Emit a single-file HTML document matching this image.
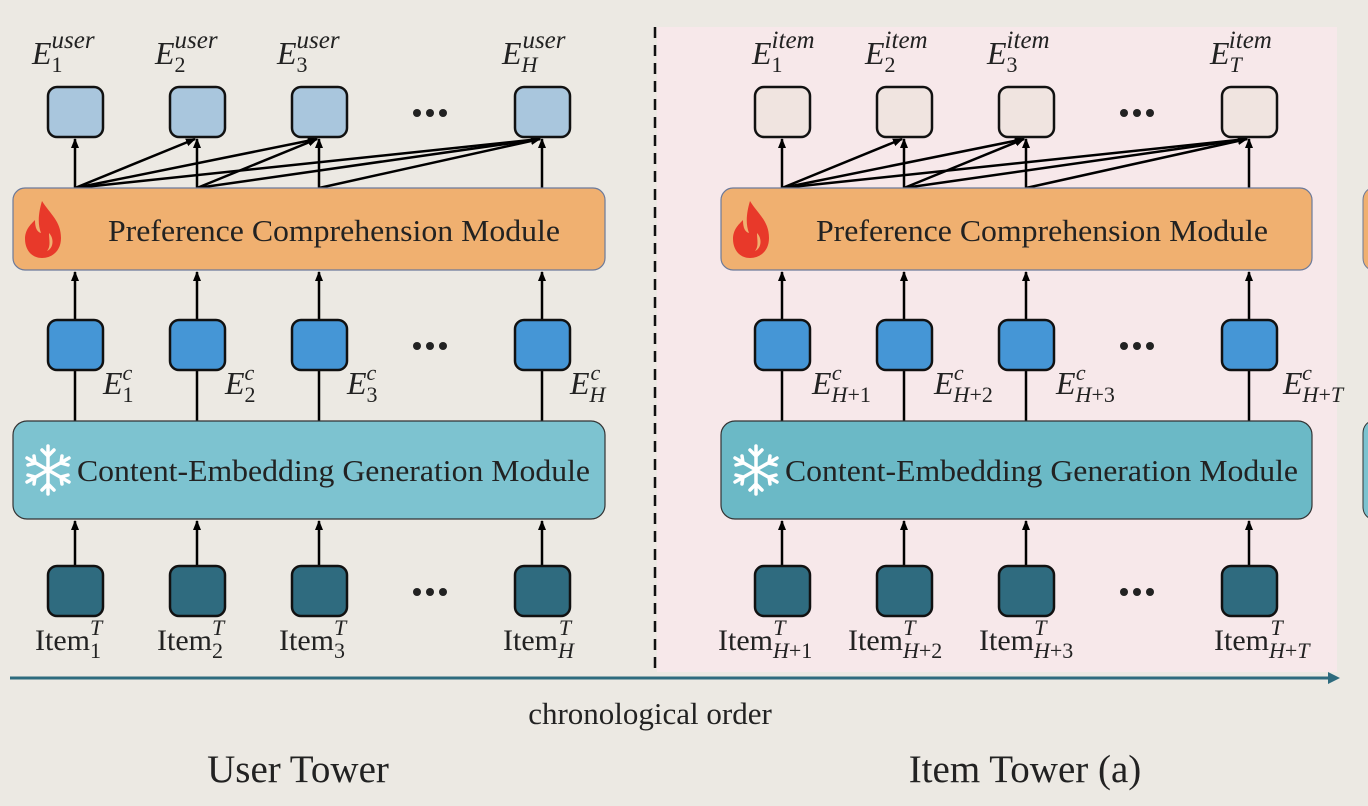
<!DOCTYPE html>
<html><head><meta charset="utf-8"><style>
html,body{margin:0;padding:0;background:#ECE9E3;}
svg{display:block}
text{font-family:"Liberation Serif",serif;fill:#222}
.m{font-style:italic}
</style></head><body>
<svg width="1368" height="806" viewBox="0 0 1368 806" xmlns="http://www.w3.org/2000/svg">
<defs>
<marker id="a" markerWidth="10" markerHeight="10" refX="9" refY="5" orient="auto" markerUnits="userSpaceOnUse"><path d="M0,1 L10,5 L0,9 z" fill="#000"/></marker>
<g id="flame"><path d="M17,0 C25,13 36,20 36,37 C36,50 27,57 17,57 C6,57 0,48 0,38 C0,29 5,24 10,19 C10,27 12,31 16,32 C12,22 14,10 17,0 z" fill="#E8392A"/><path d="M24,32 C29,37 29,47 22,50 C26,45 24,39 24,32z" fill="#F0B070"/></g>
<g id="snow" stroke="#fff" stroke-width="3.5" fill="none" stroke-linecap="round">
<path d="M0,-24 V24 M-21,-12 L21,12 M-21,12 L21,-12"/>
<path d="M-6,-20 L0,-14 L6,-20 M-6,20 L0,14 L6,20 M-20,-5 L-13,-7 L-14,-14 M20,5 L13,7 L14,14 M-20,5 L-13,7 L-14,14 M20,-5 L13,-7 L14,-14"/>
</g>
</defs>
<rect x="657" y="27" width="680" height="645" fill="#F7E8EA"/>
<line x1="655" y1="27" x2="655" y2="672" stroke="#111" stroke-width="2.5" stroke-dasharray="11,7"/>
<rect x="1363" y="188" width="20" height="82" rx="12" fill="#F0B070" stroke="#6c7a9a"/>
<rect x="1363" y="421" width="20" height="98" rx="12" fill="#7DC3D0" stroke="#333"/>

<g stroke="#000" stroke-width="2.5" fill="none">
<line x1="75" y1="188" x2="75" y2="139" marker-end="url(#a)"/>
<line x1="75" y1="188" x2="195" y2="139" marker-end="url(#a)"/>
<line x1="75" y1="188" x2="317" y2="139" marker-end="url(#a)"/>
<line x1="75" y1="188" x2="540" y2="139" marker-end="url(#a)"/>
<line x1="197" y1="188" x2="197" y2="139" marker-end="url(#a)"/>
<line x1="197" y1="188" x2="317" y2="139" marker-end="url(#a)"/>
<line x1="197" y1="188" x2="540" y2="139" marker-end="url(#a)"/>
<line x1="319" y1="188" x2="319" y2="139" marker-end="url(#a)"/>
<line x1="319" y1="188" x2="540" y2="139" marker-end="url(#a)"/>
<line x1="542" y1="188" x2="542" y2="139" marker-end="url(#a)"/>
<line x1="75" y1="320" x2="75" y2="272" marker-end="url(#a)"/>
<line x1="197" y1="320" x2="197" y2="272" marker-end="url(#a)"/>
<line x1="319" y1="320" x2="319" y2="272" marker-end="url(#a)"/>
<line x1="542" y1="320" x2="542" y2="272" marker-end="url(#a)"/>
<line x1="75" y1="370" x2="75" y2="421"/>
<line x1="197" y1="370" x2="197" y2="421"/>
<line x1="319" y1="370" x2="319" y2="421"/>
<line x1="542" y1="370" x2="542" y2="421"/>
<line x1="75" y1="566" x2="75" y2="521" marker-end="url(#a)"/>
<line x1="197" y1="566" x2="197" y2="521" marker-end="url(#a)"/>
<line x1="319" y1="566" x2="319" y2="521" marker-end="url(#a)"/>
<line x1="542" y1="566" x2="542" y2="521" marker-end="url(#a)"/>
</g>
<g stroke="#111" stroke-width="2.5">
<rect x="48" y="87" width="55" height="50" rx="9" fill="#A9C6DD"/>
<rect x="170" y="87" width="55" height="50" rx="9" fill="#A9C6DD"/>
<rect x="292" y="87" width="55" height="50" rx="9" fill="#A9C6DD"/>
<rect x="515" y="87" width="55" height="50" rx="9" fill="#A9C6DD"/>
<rect x="48" y="320" width="55" height="50" rx="9" fill="#4596D6"/>
<rect x="170" y="320" width="55" height="50" rx="9" fill="#4596D6"/>
<rect x="292" y="320" width="55" height="50" rx="9" fill="#4596D6"/>
<rect x="515" y="320" width="55" height="50" rx="9" fill="#4596D6"/>
<rect x="48" y="566" width="55" height="50" rx="9" fill="#2F6B7F"/>
<rect x="170" y="566" width="55" height="50" rx="9" fill="#2F6B7F"/>
<rect x="292" y="566" width="55" height="50" rx="9" fill="#2F6B7F"/>
<rect x="515" y="566" width="55" height="50" rx="9" fill="#2F6B7F"/>
</g>
<rect x="13" y="188" width="592" height="82" rx="12" fill="#F0B070" stroke="#6c7a9a" stroke-width="1.2"/>
<rect x="13" y="421" width="592" height="98" rx="14" fill="#7DC3D0" stroke="#333" stroke-width="1.2"/>
<use href="#flame" x="25" y="201"/>
<use href="#snow" x="48" y="470"/>
<text x="108" y="241" font-size="31" textLength="452" lengthAdjust="spacingAndGlyphs">Preference Comprehension Module</text>
<text x="77" y="481" font-size="31" textLength="513" lengthAdjust="spacingAndGlyphs">Content-Embedding Generation Module</text>
<g fill="#222"><circle cx="417" cy="113" r="4"/><circle cx="430" cy="113" r="4"/><circle cx="443" cy="113" r="4"/>
<circle cx="417" cy="346" r="4"/><circle cx="430" cy="346" r="4"/><circle cx="443" cy="346" r="4"/>
<circle cx="417" cy="592" r="4"/><circle cx="430" cy="592" r="4"/><circle cx="443" cy="592" r="4"/></g>

<g stroke="#000" stroke-width="2.5" fill="none">
<line x1="782" y1="188" x2="782" y2="139" marker-end="url(#a)"/>
<line x1="782" y1="188" x2="902" y2="139" marker-end="url(#a)"/>
<line x1="782" y1="188" x2="1024" y2="139" marker-end="url(#a)"/>
<line x1="782" y1="188" x2="1247" y2="139" marker-end="url(#a)"/>
<line x1="904" y1="188" x2="904" y2="139" marker-end="url(#a)"/>
<line x1="904" y1="188" x2="1024" y2="139" marker-end="url(#a)"/>
<line x1="904" y1="188" x2="1247" y2="139" marker-end="url(#a)"/>
<line x1="1026" y1="188" x2="1026" y2="139" marker-end="url(#a)"/>
<line x1="1026" y1="188" x2="1247" y2="139" marker-end="url(#a)"/>
<line x1="1249" y1="188" x2="1249" y2="139" marker-end="url(#a)"/>
<line x1="782" y1="320" x2="782" y2="272" marker-end="url(#a)"/>
<line x1="904" y1="320" x2="904" y2="272" marker-end="url(#a)"/>
<line x1="1026" y1="320" x2="1026" y2="272" marker-end="url(#a)"/>
<line x1="1249" y1="320" x2="1249" y2="272" marker-end="url(#a)"/>
<line x1="782" y1="370" x2="782" y2="421"/>
<line x1="904" y1="370" x2="904" y2="421"/>
<line x1="1026" y1="370" x2="1026" y2="421"/>
<line x1="1249" y1="370" x2="1249" y2="421"/>
<line x1="782" y1="566" x2="782" y2="521" marker-end="url(#a)"/>
<line x1="904" y1="566" x2="904" y2="521" marker-end="url(#a)"/>
<line x1="1026" y1="566" x2="1026" y2="521" marker-end="url(#a)"/>
<line x1="1249" y1="566" x2="1249" y2="521" marker-end="url(#a)"/>
</g>
<g stroke="#111" stroke-width="2.5">
<rect x="755" y="87" width="55" height="50" rx="9" fill="#F0E4E0"/>
<rect x="877" y="87" width="55" height="50" rx="9" fill="#F0E4E0"/>
<rect x="999" y="87" width="55" height="50" rx="9" fill="#F0E4E0"/>
<rect x="1222" y="87" width="55" height="50" rx="9" fill="#F0E4E0"/>
<rect x="755" y="320" width="55" height="50" rx="9" fill="#4596D6"/>
<rect x="877" y="320" width="55" height="50" rx="9" fill="#4596D6"/>
<rect x="999" y="320" width="55" height="50" rx="9" fill="#4596D6"/>
<rect x="1222" y="320" width="55" height="50" rx="9" fill="#4596D6"/>
<rect x="755" y="566" width="55" height="50" rx="9" fill="#2F6B7F"/>
<rect x="877" y="566" width="55" height="50" rx="9" fill="#2F6B7F"/>
<rect x="999" y="566" width="55" height="50" rx="9" fill="#2F6B7F"/>
<rect x="1222" y="566" width="55" height="50" rx="9" fill="#2F6B7F"/>
</g>
<rect x="721" y="188" width="591" height="82" rx="12" fill="#F0B070" stroke="#6c7a9a" stroke-width="1.2"/>
<rect x="721" y="421" width="591" height="98" rx="14" fill="#6BB9C6" stroke="#333" stroke-width="1.2"/>
<use href="#flame" x="733" y="201"/>
<use href="#snow" x="756" y="470"/>
<text x="816" y="241" font-size="31" textLength="452" lengthAdjust="spacingAndGlyphs">Preference Comprehension Module</text>
<text x="785" y="481" font-size="31" textLength="513" lengthAdjust="spacingAndGlyphs">Content-Embedding Generation Module</text>
<g fill="#222"><circle cx="1124" cy="113" r="4"/><circle cx="1137" cy="113" r="4"/><circle cx="1150" cy="113" r="4"/>
<circle cx="1124" cy="346" r="4"/><circle cx="1137" cy="346" r="4"/><circle cx="1150" cy="346" r="4"/>
<circle cx="1124" cy="592" r="4"/><circle cx="1137" cy="592" r="4"/><circle cx="1150" cy="592" r="4"/></g>

<g font-size="32">
<text x="32" y="64"><tspan class="m">E</tspan><tspan font-size="22" dy="8">1</tspan><tspan class="m" font-size="25" dx="-11" dy="-24">user</tspan></text>
<text x="155" y="64"><tspan class="m">E</tspan><tspan font-size="22" dy="8">2</tspan><tspan class="m" font-size="25" dx="-11" dy="-24">user</tspan></text>
<text x="277" y="64"><tspan class="m">E</tspan><tspan font-size="22" dy="8">3</tspan><tspan class="m" font-size="25" dx="-11" dy="-24">user</tspan></text>
<text x="502" y="64"><tspan class="m">E</tspan><tspan class="m" font-size="22" dy="8">H</tspan><tspan class="m" font-size="25" dx="-15" dy="-24">user</tspan></text>
<text x="752" y="64"><tspan class="m">E</tspan><tspan font-size="22" dy="8">1</tspan><tspan class="m" font-size="25" dx="-11" dy="-24">item</tspan></text>
<text x="865" y="64"><tspan class="m">E</tspan><tspan font-size="22" dy="8">2</tspan><tspan class="m" font-size="25" dx="-11" dy="-24">item</tspan></text>
<text x="987" y="64"><tspan class="m">E</tspan><tspan font-size="22" dy="8">3</tspan><tspan class="m" font-size="25" dx="-11" dy="-24">item</tspan></text>
<text x="1210" y="64"><tspan class="m">E</tspan><tspan class="m" font-size="22" dy="8">T</tspan><tspan class="m" font-size="25" dx="-13" dy="-24">item</tspan></text>
</g>
<g font-size="32">
<text x="103" y="394"><tspan class="m">E</tspan><tspan font-size="22" dy="8">1</tspan><tspan class="m" font-size="22" dx="-11" dy="-22">c</tspan></text>
<text x="225" y="394"><tspan class="m">E</tspan><tspan font-size="22" dy="8">2</tspan><tspan class="m" font-size="22" dx="-11" dy="-22">c</tspan></text>
<text x="347" y="394"><tspan class="m">E</tspan><tspan font-size="22" dy="8">3</tspan><tspan class="m" font-size="22" dx="-11" dy="-22">c</tspan></text>
<text x="570" y="394"><tspan class="m">E</tspan><tspan class="m" font-size="22" dy="8">H</tspan><tspan class="m" font-size="22" dx="-15" dy="-22">c</tspan></text>
<text x="812" y="394"><tspan class="m">E</tspan><tspan class="m" font-size="22" dy="8">H</tspan><tspan font-size="22">+1</tspan><tspan class="m" font-size="22" dx="-39" dy="-22">c</tspan></text>
<text x="934" y="394"><tspan class="m">E</tspan><tspan class="m" font-size="22" dy="8">H</tspan><tspan font-size="22">+2</tspan><tspan class="m" font-size="22" dx="-39" dy="-22">c</tspan></text>
<text x="1056" y="394"><tspan class="m">E</tspan><tspan class="m" font-size="22" dy="8">H</tspan><tspan font-size="22">+3</tspan><tspan class="m" font-size="22" dx="-39" dy="-22">c</tspan></text>
<text x="1283" y="394"><tspan class="m">E</tspan><tspan class="m" font-size="22" dy="8">H</tspan><tspan font-size="22">+</tspan><tspan class="m" font-size="22">T</tspan><tspan class="m" font-size="22" dx="-39" dy="-22">c</tspan></text>
</g>
<g font-size="30">
<text x="35" y="650">Item<tspan font-size="22" dy="8">1</tspan><tspan class="m" font-size="22" dx="-11" dy="-23">T</tspan></text>
<text x="157" y="650">Item<tspan font-size="22" dy="8">2</tspan><tspan class="m" font-size="22" dx="-11" dy="-23">T</tspan></text>
<text x="279" y="650">Item<tspan font-size="22" dy="8">3</tspan><tspan class="m" font-size="22" dx="-11" dy="-23">T</tspan></text>
<text x="503" y="650">Item<tspan class="m" font-size="22" dy="8">H</tspan><tspan class="m" font-size="22" dx="-15" dy="-23">T</tspan></text>
<text x="718" y="650">Item<tspan class="m" font-size="22" dy="8">H</tspan><tspan font-size="22">+1</tspan><tspan class="m" font-size="22" dx="-39" dy="-23">T</tspan></text>
<text x="848" y="650">Item<tspan class="m" font-size="22" dy="8">H</tspan><tspan font-size="22">+2</tspan><tspan class="m" font-size="22" dx="-39" dy="-23">T</tspan></text>
<text x="979" y="650">Item<tspan class="m" font-size="22" dy="8">H</tspan><tspan font-size="22">+3</tspan><tspan class="m" font-size="22" dx="-39" dy="-23">T</tspan></text>
<text x="1214" y="650">Item<tspan class="m" font-size="22" dy="8">H</tspan><tspan font-size="22">+</tspan><tspan class="m" font-size="22">T</tspan><tspan class="m" font-size="22" dx="-39" dy="-23">T</tspan></text>
</g>
<line x1="10" y1="678" x2="1330" y2="678" stroke="#2E6B7E" stroke-width="3"/>
<path d="M1328,672 L1340,678 L1328,684 z" fill="#2E6B7E"/>
<text x="650" y="724" font-size="31" text-anchor="middle">chronological order</text>
<text x="298" y="782" font-size="39" text-anchor="middle">User Tower</text>
<text x="1025" y="782" font-size="39" text-anchor="middle">Item Tower (a)</text>
</svg>
</body></html>
